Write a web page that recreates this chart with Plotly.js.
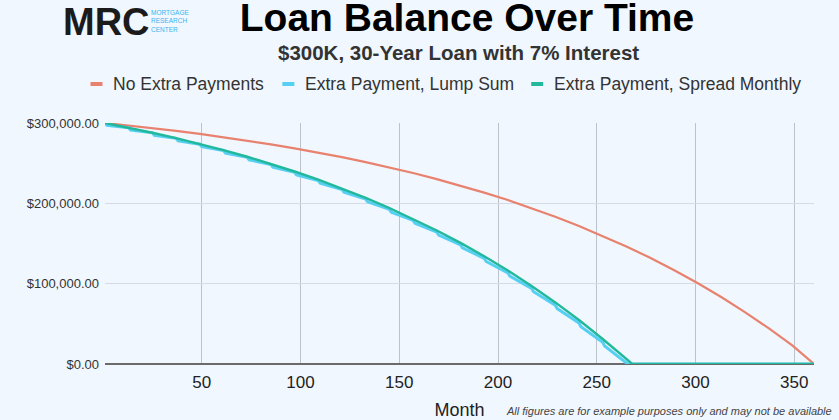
<!DOCTYPE html>
<html>
<head>
<meta charset="utf-8">
<script src="https://cdn.plot.ly/plotly-3.0.1.min.js"></script>
<style>
  html, body { margin: 0; padding: 0; background: #f0f7fe; }
  #chart { width: 839px; height: 420px; }
</style>
</head>
<body>
<div id="chart"></div>
<script>
// ---- Data ----
const seriesNames = ["No Extra Payments", "Extra Payment, Lump Sum", "Extra Payment, Spread Monthly"];
const seriesColors = ["#e8826f", "#55cff2", "#22b89b"];

const noExtraMonths = [1,13,25,37,49,61,73,85,97,109,121,133,145,157,169,181,193,205,217,229,241,253,265,277,289,301,313,325,337,349,360];
const noExtraBalance = [300000,296953,293685,290181,286423,282394,278074,273442,268475,263148,257437,251312,244745,237704,230153,222057,213375,204066,194083,183379,171901,159593,146395,132243,117068,100797,83348,64638,44576,23064,0];

const lumpMonths = [1,2,13,14,25,26,37,38,49,50,61,62,73,74,85,86,97,98,109,110,121,122,133,134,145,146,157,158,169,170,181,182,193,194,205,206,217,218,229,230,241,242,253,254,265,266,360];
const lumpBalance = [300000,297054,294074,291094,287720,284703,280906,277849,273599,270499,265766,262620,257365,254170,248357,245110,238698,235395,228341,224977,217235,213806,205326,201828,192557,188984,178864,175212,164182,160444,148437,144607,131556,127628,113454,109420,94043,89896,73228,68959,50909,46510,26975,22436,1311,0,0];

const spreadMonths = [1,13,25,37,49,61,73,85,97,109,121,133,145,157,169,181,193,205,217,229,241,253,265,268,360];
const spreadBalance = [300000,294164,287906,281196,274000,266285,258012,249141,239628,229428,218491,206763,194187,180702,166242,150738,134112,116285,97168,76669,54689,31119,5845,0,0];

const xTickVals = [50,100,150,200,250,300,350];
const yTickVals = [0,100000,200000,300000];

// ---- Layout helpers ----
const L = 104.5, R = 814, T = 123, B = 364, W = 839, H = 420;
const px = x => (x - L) / (R - L);
const py = y => (B - y) / (B - T);
const FONT = "Liberation Sans, Arial, Helvetica, sans-serif";

const traces = [
  { x: noExtraMonths, y: noExtraBalance, name: seriesNames[0], mode: "lines",
    line: { color: seriesColors[0], width: 2.2 } },
  { x: lumpMonths, y: lumpBalance, name: seriesNames[1], mode: "lines",
    line: { color: seriesColors[1], width: 3 } },
  { x: spreadMonths, y: spreadBalance, name: seriesNames[2], mode: "lines",
    line: { color: seriesColors[2], width: 2.4 } }
];

// custom legend (short thick swatches like the reference)
const legendSwatchX = [90, 282, 531];
const legendTextX = [111, 303, 552];
const legendY = 84;

const shapes = seriesNames.map((n, i) => ({
  type: "line", xref: "paper", yref: "paper",
  x0: px(legendSwatchX[i]), x1: px(legendSwatchX[i] + 12),
  y0: py(legendY), y1: py(legendY),
  line: { color: seriesColors[i], width: 4 }
}));

const annotations = [
  { text: "$300K, 30-Year Loan with 7% Interest", xref: "paper", yref: "paper",
    x: px(458.5), y: py(53), xanchor: "center", yanchor: "middle", showarrow: false,
    font: { family: FONT, size: 20.5, color: "#333333", weight: 700 } },
  { text: "MRC", xref: "paper", yref: "paper",
    x: px(60), y: py(22), xanchor: "left", yanchor: "middle", showarrow: false,
    font: { family: FONT, size: 38, color: "#1b1b1b", weight: 700 } },
  { text: "MORTGAGE<br>RESEARCH<br>CENTER", xref: "paper", yref: "paper",
    x: px(149), y: py(21), xanchor: "left", yanchor: "middle", align: "left", showarrow: false,
    font: { family: FONT, size: 6.5, color: "#3cb3ee" } },
  { text: "All figures are for example purposes only and may not be available", xref: "paper", yref: "paper",
    x: px(834), y: py(411), xanchor: "right", yanchor: "middle", showarrow: false,
    font: { family: FONT, size: 11, color: "#444444", style: "italic" } }
].concat(seriesNames.map((n, i) => ({
  text: n, xref: "paper", yref: "paper",
  x: px(legendTextX[i]), y: py(legendY), xanchor: "left", yanchor: "middle", showarrow: false,
  font: { family: FONT, size: 17.5, color: "#333333" }
})));

const layout = {
  width: W, height: H,
  margin: { l: L, r: W - R, t: T, b: H - B, pad: 0 },
  paper_bgcolor: "#f0f7fe",
  plot_bgcolor: "#f0f7fe",
  showlegend: false,
  font: { family: FONT, color: "#333" },
  title: {
    text: "<b>Loan Balance Over Time</b>",
    font: { family: FONT, size: 39, color: "#000000" },
    xref: "container", yref: "container",
    x: 467 / W, xanchor: "center",
    y: 1 - 17 / H, yanchor: "middle"
  },
  xaxis: {
    range: [1, 360],
    tickvals: xTickVals,
    ticks: "",
    showgrid: true, gridcolor: "#bcc3cc", gridwidth: 1,
    zeroline: false, showline: false,
    tickfont: { family: FONT, size: 17, color: "#222222" },
    ticklabelstandoff: 6,
    title: { text: "Month", font: { family: FONT, size: 18, color: "#222222" }, standoff: 16 },
    fixedrange: true
  },
  yaxis: {
    range: [0, 300000],
    tickvals: yTickVals,
    tickformat: "$,.2f",
    ticks: "",
    showgrid: true, gridcolor: "#d5dce5", gridwidth: 1.5,
    zeroline: true, zerolinecolor: "#6b6b6b", zerolinewidth: 2,
    showline: false,
    tickfont: { family: FONT, size: 13, color: "#333333" },
    ticklabelstandoff: 5,
    fixedrange: true
  },
  shapes: shapes,
  annotations: annotations
};

Plotly.newPlot("chart", traces, layout, { displayModeBar: false, staticPlot: true });
</script>
</body>
</html>
